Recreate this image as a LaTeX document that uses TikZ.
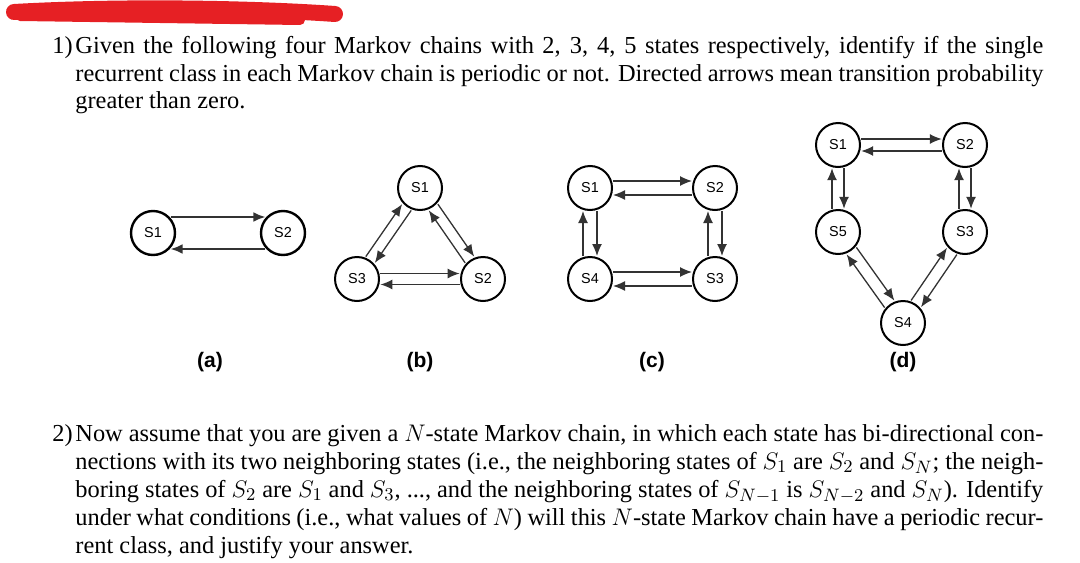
\documentclass[tikz,border=0pt]{standalone}
\usepackage{fontspec}
\setmainfont{Liberation Serif}
\setsansfont{Liberation Sans}
\usetikzlibrary{arrows.meta,calc}
\begin{document}
\begin{tikzpicture}[x=0.5pt,y=-0.5pt,
  st/.style={circle,draw=black,line width=1pt,minimum size=22pt,inner sep=0pt,font=\sffamily\fontsize{7.2}{8}\selectfont},
  arr/.style={draw=black!80,line width=0.65pt,-{Latex[length=6pt,width=5pt]}},
  lbl/.style={font=\sffamily\bfseries\fontsize{10.5}{12}\selectfont},
  num/.style={anchor=north west,inner sep=0pt,font=\fontsize{12.2}{14}\selectfont},
  para/.style={anchor=north west,inner sep=0pt,text width=484pt,align=justify,font=\fontsize{12.2}{14}\selectfont}]
\useasboundingbox (0,0) rectangle (1080,562);
\newcommand\bip[5]{% A B offset shorten extra
  \draw[arr,#5,shorten <=#4,shorten >=#4] ($(#1)!#3!90:(#2)$) -- ($(#2)!#3!-90:(#1)$);
  \draw[arr,#5,shorten <=#4,shorten >=#4] ($(#2)!#3!90:(#1)$) -- ($(#1)!#3!-90:(#2)$);}
% redaction
\draw[line width=8pt,color={rgb,255:red,230;green,32;blue,36},line cap=round] (14,12) .. controls (120,6) and (250,8) .. (335,14);
\draw[line width=5pt,color={rgb,255:red,230;green,32;blue,36},line cap=round] (20,16) -- (300,20);
% item 1
\node[num] (n1) at (52,33) {\strut 1)};
\node[para] (t1) at (75,33) {\strut Given the following four Markov chains with 2, 3, 4, 5 states respectively, identify if the single recurrent class in each Markov chain is periodic or not. Directed arrows mean transition probability greater than zero.};
% (a)
\node[st,line width=1.2pt] (a1) at (153,233) {S1};
\node[st,line width=1.2pt] (a2) at (283,233) {S2};
\bip{a1}{a2}{8pt}{8.8pt}{line width=1.1pt}
% (b)
\node[st] (b1) at (420,188) {S1};
\node[st] (b3) at (357,279) {S3};
\node[st] (b2) at (483,279) {S2};
\bip{b3}{b2}{2.75pt}{11.7pt}{}
\bip{b1}{b2}{2.75pt}{11.7pt}{}
\bip{b3}{b1}{2.75pt}{11.7pt}{}
% (c)
\node[st] (c1) at (590,188) {S1};
\node[st] (c2) at (715,188) {S2};
\node[st] (c4) at (590,279) {S4};
\node[st] (c3) at (715,279) {S3};
\bip{c1}{c2}{3.5pt}{11.5pt}{}
\bip{c1}{c4}{3.5pt}{11.5pt}{}
\bip{c2}{c3}{3.5pt}{11.5pt}{}
\bip{c4}{c3}{3.5pt}{11.5pt}{}
% (d)
\node[st] (d1) at (838,145) {S1};
\node[st] (d2) at (965,145) {S2};
\node[st] (d5) at (838,232) {S5};
\node[st] (d3) at (965,232) {S3};
\node[st] (d4) at (903,323) {S4};
\bip{d1}{d2}{3pt}{11.6pt}{}
\bip{d1}{d5}{3pt}{11.6pt}{}
\bip{d2}{d3}{3pt}{11.6pt}{}
\bip{d5}{d4}{3pt}{11.6pt}{}
\bip{d4}{d3}{3pt}{11.6pt}{}
% captions
\node[lbl] (la) at (210,362) {(a)};
\node[lbl] (lb) at (420,362) {(b)};
\node[lbl] (lc) at (652,362) {(c)};
\node[lbl] (ld) at (903,362) {(d)};
% item 2
\node[num] (n2) at (52,421) {\strut 2)};
\node[para] (t2) at (75,421) {\strut Now assume that you are given a $N$-state Markov chain, in which each state has bi-directional connections with its two neighboring states (i.e., the neighboring states of $S_1$ are $S_2$ and $S_N$; the neighboring states of $S_2$ are $S_1$ and $S_3$, ..., and the neighboring states of $S_{N-1}$ is $S_{N-2}$ and $S_N$). Identify under what conditions (i.e., what values of $N$) will this $N$-state Markov chain have a periodic recurrent class, and justify your answer.};
\end{tikzpicture}
\end{document}
